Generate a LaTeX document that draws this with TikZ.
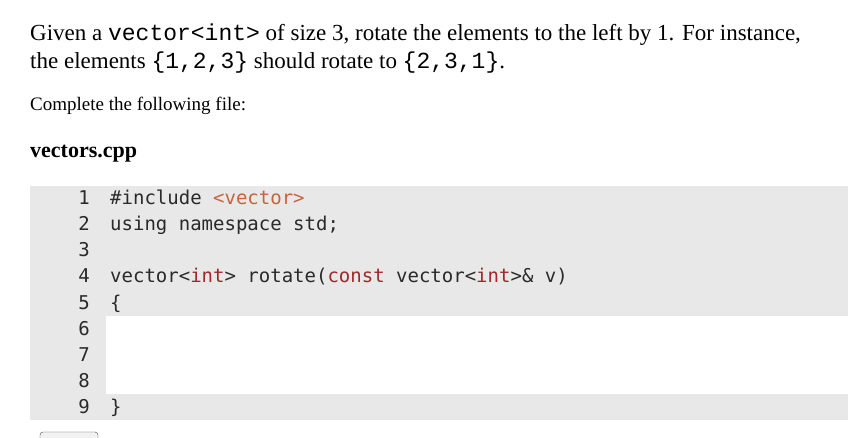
\documentclass[tikz,border=0pt]{standalone}
\usepackage{fontspec}
\setmainfont{Liberation Serif}
\setmonofont{Liberation Mono}
\newfontfamily\codefont{DejaVu Sans Mono}
\definecolor{codebg}{HTML}{E8E8E8}
\definecolor{strc}{HTML}{C8643C}
\definecolor{kwc}{HTML}{A0282A}
\definecolor{codetx}{HTML}{2A2A2A}
\begin{document}
\begin{tikzpicture}[x=1pt,y=-1pt,
  para/.style={anchor=base west,inner sep=0pt,font=\fontsize{23}{27}\selectfont},
  small/.style={anchor=base west,inner sep=0pt,font=\fontsize{19}{22}\selectfont},
  lnum/.style={anchor=base east,inner sep=0pt,font=\codefont\fontsize{19}{22}\selectfont,text=codetx},
  code/.style={anchor=base west,inner sep=0pt,font=\codefont\fontsize{19}{22}\selectfont,text=codetx}]
\useasboundingbox (0,0) rectangle (848,438);
\clip (0,0) rectangle (848,438);
\fill[white] (0,0) rectangle (848,438);
\node[para] (t1) at (30,41) {Given a \texttt{vector<int>} of size 3, rotate the elements to the left by 1. For instance,};
\node[para] (t2) at (30,69) {the elements \texttt{\{1,2,3\}} should rotate to \texttt{\{2,3,1\}}.};
\node[small] (t3) at (30,111) {Complete the following file:};
\node[para,font=\fontsize{22}{26}\selectfont\bfseries] (t4) at (30,158) {vectors.cpp};
\fill[codebg] (30,186) rectangle (848,420);
\fill[white] (106,316) rectangle (848,394);
\foreach \n in {1,...,9} \node[lnum] (n\n) at (90,{205+26*(\n-1)}) {\n};
\node[code] (c1) at (110,205) {\#include \textcolor{strc}{<vector>}};
\node[code] (c2) at (110,231) {using namespace std;};
\node[code] (c4) at (110,283) {vector<\textcolor{kwc}{int}> rotate(\textcolor{kwc}{const} vector<\textcolor{kwc}{int}>\& v)};
\node[code] (c5) at (110,309) {\{};
\node[code] (c9) at (110,413) {\}};
\draw[rounded corners=3pt,fill=white!95!black,draw=black!70] (40,432) rectangle (98,455);
\end{tikzpicture}
\end{document}
